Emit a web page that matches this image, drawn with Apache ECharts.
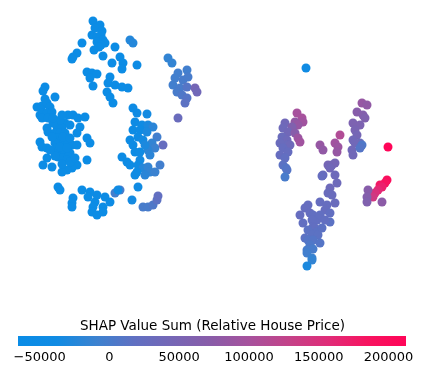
<!DOCTYPE html>
<html>
<head>
<meta charset="utf-8">
<script src="https://cdn.jsdelivr.net/npm/echarts@6/dist/echarts.min.js"></script>
<style>html,body{margin:0;padding:0;background:#fff}#c{width:425px;height:375px}</style>
</head>
<body>
<div id="c"></div>
<script>
// Embedding coordinates [x, y, SHAP value sum]
const clusterTop = [
[93,21,-55000],[100,25,-55000],[95,28,-55000],[102,31,-55000],[92,35,-55000],[97,37,-55000],[101,35,-55000],[103,40,-55000],[97,42,-55000],[105,43,-55000],[101,45,-55000],[99,47,-55000],[82,43,-55000],[115,47,-55000],[94,50,-55000],[103,56,-55000],[120,57,-55000],[77,53,-55000],[73,57,-55000],[72,59,-55000],[112,63,-55000],[123,63,-55000],[122,69,-55000],[87,72,-55000],[92,73,-55000],[97,74,-55000],[90,78,-55000],[110,77,-55000],[93,86,-55000],[108,83,-55000],[115,85,-55000],[122,87,-55000],[128,88,-50000],[107,92,-55000],[110,97,-55000],[113,103,-55000],[130,40,-25000],[133,43,-25000],[137,65,-50000]
];
const clusterLeft = [
[45,87,-55000],[43,91,-55000],[55,97,-55000],[45,99,-55000],[37,107,-55000],[42,106,-55000],[47,103,-55000],[50,107,-55000],[40,115,-55000],[43,113,-55000],[47,113,-55000],[52,112,-55000],[42,118,-55000],[48,118,-55000],[68,115,-55000],[73,115,-55000],[78,118,-55000],[85,117,-55000],[58,122,-55000],[65,123,-55000],[57,127,-55000],[62,128,-55000],[47,128,-55000],[48,132,-55000],[80,127,-55000],[77,133,-55000],[55,133,-55000],[60,133,-55000],[65,133,-55000],[57,138,-55000],[62,140,-55000],[87,138,-55000],[90,143,-55000],[40,142,-55000],[42,147,-55000],[47,148,-55000],[55,143,-55000],[57,148,-55000],[63,145,-55000],[68,143,-55000],[72,145,-55000],[77,145,-55000],[58,152,-55000],[65,152,-55000],[70,153,-55000],[58,157,-55000],[63,158,-55000],[68,157,-55000],[67,160,-55000],[47,158,-55000],[43,165,-55000],[52,167,-55000],[87,160,-55000],[77,165,-55000],[72,168,-55000],[67,170,-55000],[62,172,-55000],[60,120,-55000],[53,123,-55000],[63,137,-55000],[70,138,-55000],[52,137,-55000],[60,147,-55000],[67,148,-55000],[55,156,-55000],[62,164,-55000],[70,162,-55000],[53,118,-55000],[62,115,-55000],[70,125,-55000],[50,150,-55000],[75,158,-55000]
];
const clusterBottom = [
[58,187,-55000],[60,190,-55000],[82,190,-55000],[90,192,-55000],[88,197,-55000],[73,198,-55000],[72,203,-55000],[72,207,-55000],[95,202,-55000],[93,207,-55000],[92,212,-55000],[97,215,-55000],[105,197,-50000],[110,202,-50000],[103,207,-55000],[103,212,-55000],[97,195,-50000],[115,193,-5000],[120,190,0]
];
const clusterMid = [
[137,113,-40000],[147,114,-35000],[135,122,-45000],[142,125,-40000],[148,125,-30000],[153,127,-20000],[133,130,-50000],[140,130,-45000],[147,132,-30000],[157,137,-5000],[138,137,-45000],[143,140,-35000],[152,143,-15000],[155,148,-10000],[148,150,-20000],[133,145,-50000],[135,152,-50000],[122,157,-50000],[127,162,-50000],[130,165,-45000],[140,160,-35000],[138,165,-40000],[143,168,-25000],[148,167,-15000],[150,172,-15000],[155,172,-10000],[160,165,-5000],[137,172,-40000],[135,175,-40000],[118,190,-40000],[138,187,-40000],[132,200,-35000],[143,207,0],[148,207,0],[153,205,5000],[157,200,15000],[158,196,20000],[133,108,-45000],[163,145,25000],[145,145,-30000],[140,152,-40000],[150,155,-20000],[145,175,-20000],[130,140,-50000]
];
const clusterUpper = [
[168,58,-15000],[172,63,-15000],[187,70,-5000],[178,73,-5000],[175,78,-5000],[183,80,0],[188,77,0],[173,85,-5000],[180,88,0],[187,87,10000],[195,88,45000],[197,92,40000],[177,92,0],[182,95,5000],[187,98,10000],[185,103,15000],[178,118,30000]
];
const clusterRightLeft = [
[306,68,-40000],
[297,113,100000],[302,118,100000],[303,122,95000],[295,122,80000],[298,125,85000],[285,123,40000],[292,127,60000],[283,128,35000],[288,132,40000],[295,133,70000],[298,138,90000],[300,142,95000],[282,137,30000],[287,140,35000],[280,143,30000],[288,145,30000],[290,145,35000],[283,148,25000],[288,152,25000],[280,155,25000],[285,158,20000],[283,165,15000],[286,168,10000],[287,170,10000],[285,177,0]
];
const clusterRightMid = [
[320,145,85000],[323,150,80000],[340,135,110000],[335,143,95000],[338,147,90000],[337,152,85000],[332,165,40000],[335,163,45000],[328,165,45000],[330,168,40000],[323,175,30000],[335,175,35000],[337,183,35000],[322,176,25000]
];
const clusterRightCol = [
[362,103,85000],[367,105,80000],[357,112,70000],[363,115,65000],[365,118,60000],[353,123,55000],[360,125,55000],[355,130,50000],[357,135,45000],[353,140,40000],[360,143,30000],[355,143,40000],[352,150,40000],[353,155,40000],[362,145,5000],[360,148,10000]
];
const clusterHigh = [
[388,147,215000],[387,180,195000],[385,183,185000],[380,185,180000],[382,187,170000],[378,190,160000],[375,193,150000],[373,197,140000],[368,190,70000],[367,197,65000],[367,202,60000],[382,202,75000]
];
const clusterRightBottom = [
[330,188,35000],[328,193,30000],[332,195,30000],[320,202,25000],[327,205,25000],[335,203,30000],[325,210,25000],[330,213,20000],[330,222,15000],[308,205,25000],[305,208,25000],[310,213,25000],[313,215,20000],[317,220,20000],[312,220,20000],[303,223,20000],[313,227,20000],[315,228,20000],[308,230,15000],[317,232,15000],[312,235,15000],[318,235,15000],[305,238,15000],[308,240,10000],[313,240,10000],[320,243,10000],[310,245,5000],[307,250,0],[313,249,0],[307,253,-5000],[312,258,-10000],[312,260,-15000],[307,266,-30000],[300,215,25000],[320,215,20000],[325,220,20000],[322,228,15000]
];
const colorbarTicks = [-50000, 0, 50000, 100000, 150000, 200000];
const colorMin = -65500, colorMax = 212500;
const colorTitle = 'SHAP Value Sum (Relative House Price)';
const colorStops = ['#0a8ce6','#108be3','#3b82d0','#6070c2','#7666b5','#8a5ca8','#a8519c','#c44288','#e02c78','#f71460','#ff0558'];

const points = [].concat(clusterTop, clusterLeft, clusterBottom, clusterMid, clusterUpper,
  clusterRightLeft, clusterRightMid, clusterRightCol, clusterHigh, clusterRightBottom);

const FONT = 'DejaVu Sans';
const chart = echarts.init(document.getElementById('c'), null, {renderer: 'canvas'});
chart.setOption({
  animation: false,
  backgroundColor: '#fff',
  title: {
    text: colorTitle, left: 'center', top: 319, padding: 0,
    textStyle: {fontFamily: FONT, fontSize: 13.5, fontWeight: 'normal', color: '#000'}
  },
  grid: [
    {left: 0, right: 0, top: 0, bottom: 0},
    {left: 18, width: 388, top: 336, height: 10}
  ],
  xAxis: [
    {gridIndex: 0, type: 'value', min: 0, max: 425, show: false},
    {gridIndex: 1, type: 'value', min: colorMin, max: colorMax,
     axisLine: {show: false}, axisTick: {show: false}, splitLine: {show: false},
     axisLabel: {customValues: colorbarTicks, margin: 5, fontFamily: FONT, fontSize: 13, color: '#000',
       formatter: v => String(v).replace('-', '\u2212')}}
  ],
  yAxis: [
    {gridIndex: 0, type: 'value', min: 0, max: 375, inverse: true, show: false},
    {gridIndex: 1, type: 'value', show: false}
  ],
  visualMap: {
    type: 'continuous', dimension: 2, seriesIndex: 0, show: false,
    min: colorMin, max: colorMax,
    inRange: {color: colorStops}
  },
  graphic: [{
    type: 'rect', left: 18, top: 336, silent: true,
    shape: {width: 388, height: 10},
    style: {fill: new echarts.graphic.LinearGradient(0, 0, 1, 0,
      colorStops.map((c, i) => ({offset: i / (colorStops.length - 1), color: c})))}
  }],
  series: [{
    type: 'scatter', xAxisIndex: 0, yAxisIndex: 0,
    symbol: 'circle', symbolSize: 9,
    itemStyle: {opacity: 1},
    data: points
  }]
});
</script>
</body>
</html>
